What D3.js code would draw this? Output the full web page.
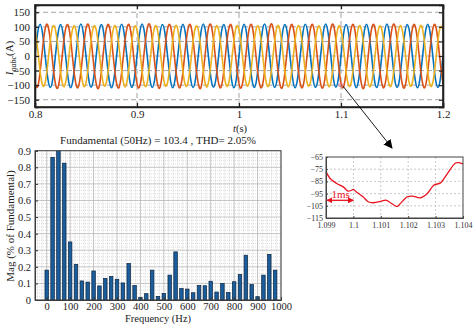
<!DOCTYPE html>
<html><head><meta charset="utf-8">
<script src="https://cdn.jsdelivr.net/npm/d3@7/dist/d3.min.js"></script>
<style>
body{margin:0;background:#fff;}
svg text{font-family:"Liberation Serif","Times New Roman",serif;}
</style></head>
<body><svg id="c" width="474" height="324"></svg>
<script>
// ---------- top: three-phase grid current samples (t0 = 0.8 s, dt = 2.5 ms) ----------
const waveT0 = 0.8, waveDt = 0.0025;
const phaseA = [
0,77,109,76,0,-76,-108,-77, 0,76,108,77,1,-77,-109,-76, 0,77,110,76,0,-76,-107,-76, 0,76,108,77,0,-77,-109,-77,
0,77,109,76,1,-76,-108,-76, 0,76,110,77,0,-77,-108,-77, 0,77,108,76,0,-76,-109,-76, 0,76,109,77,1,-77,-108,-77,
0,77,110,76,0,-76,-107,-76, 0,76,108,77,0,-77,-109,-77, 0,77,109,76,0,-76,-108,-76, 0,76,110,77,1,-77,-108,-77,
0,77,108,76,0,-76,-109,-76, 0,76,109,77,0,-77,-108,-77, 0,77,110,76,1,-76,-107,-76, 0,76,108,77,0,-77,-109,-77,
0,77,109,76,0,-76,-108,-76, 0,76,110,77,1,-77,-108,-77, 0,77,108,76,0,-76,-109,-76, 0,76,109,77,0,-77,-108,-77, 0];
const phaseB = [
-94,-106,-55,28,94,106,55,-28, -95,-108,-56,28,93,105,55,-29, -94,-106,-55,28,94,107,56,-28, -95,-109,-56,28,94,105,55,-28,
-94,-107,-55,29,93,106,55,-28, -95,-106,-56,28,94,108,56,-28, -94,-108,-55,28,94,105,55,-29, -95,-106,-56,28,93,106,55,-28,
-94,-110,-56,28,94,107,56,-28, -94,-106,-55,29,94,105,55,-28, -95,-107,-56,28,93,106,55,-28, -94,-106,-55,28,94,108,56,-29,
-95,-108,-56,28,94,105,55,-28, -94,-106,-55,28,93,106,55,-28, -95,-107,-56,29,94,107,56,-28, -94,-106,-55,28,94,105,55,-28,
-95,-109,-56,28,93,106,55,-29, -94,-106,-55,28,94,107,56,-28, -95,-107,-56,28,94,105,55,-28, -94,-106,-55,29,93,106,55,-28, -94];
const phaseC = [
91,27,-52,-101,-91,-27,53,101, 91,27,-53,-102,-91,-27,52,100, 91,28,-52,-101,-92,-27,53,101, 90,27,-53,-100,-91,-28,52,101,
91,27,-52,-102,-91,-27,53,100, 91,28,-53,-101,-92,-27,52,101, 90,27,-52,-100,-91,-27,53,102, 91,27,-53,-101,-91,-28,52,100,
91,28,-52,-102,-92,-27,53,101, 90,27,-53,-101,-91,-27,52,101, 91,27,-52,-100,-91,-28,53,100, 91,28,-53,-101,-92,-27,52,102,
90,27,-52,-102,-91,-27,53,101, 91,27,-53,-100,-91,-28,52,100, 91,28,-52,-101,-92,-27,53,101, 90,27,-53,-101,-91,-27,52,101,
91,27,-52,-102,-91,-28,53,100, 91,28,-53,-101,-92,-27,52,101, 90,27,-52,-100,-91,-27,53,102, 91,27,-53,-101,-91,-28,52,100, 91];
const phaseColors = ["#0072BD","#D95319","#EDB120"];
const topXTicks = [0.8,0.9,1.0,1.1,1.2];
const topYTicks = [-150,-100,-50,0,50,100,150];

// ---------- inset: zoomed phase current near 1.1 s ----------
const zoomT = [1.099,1.09915,1.09939,1.09963,1.09981,1.09994,1.1,1.1001,1.10035,1.10054,1.10072,1.101,1.10118,1.1013,1.1016,1.10172,1.10197,1.10215,1.10245,1.1027,1.10294,1.10318,1.10343,1.10373,1.10385,1.104];
const zoomI = [-77,-82.6,-86.7,-89.5,-93,-92.2,-91.6,-93.5,-97.6,-101.7,-102.5,-101.4,-100.3,-101.7,-105.5,-103,-97.6,-97,-98.4,-94.9,-88,-86.2,-78.6,-69.9,-69.6,-70.7];
const zoomXTicks = [1.099,1.1,1.101,1.102,1.103,1.104];
const zoomYTicks = [-115,-105,-95,-85,-75,-65];

// ---------- FFT spectrum ----------
const freqs = [0,25,50,75,100,125,150,175,200,225,250,275,300,325,350,375,400,425,450,475,500,525,550,575,600,625,650,675,700,725,750,775,800,825,850,875,900,925,950,975];
const mags = [0.18,0.86,1.0,0.825,0.35,0.215,0.115,0.108,0.175,0.085,0.13,0.142,0.125,0.103,0.22,0.087,0.015,0.038,0.18,0.022,0.04,0.15,0.29,0.07,0.066,0.044,0.088,0.086,0.113,0.048,0.1,0.046,0.11,0.153,0.27,0.093,0.02,0.15,0.275,0.18];
const barXTicks = [0,100,200,300,400,500,600,700,800,900,1000];
const barYTicks = [0,0.1,0.2,0.3,0.4,0.5,0.6,0.7,0.8,0.9];
const fftTitle = "Fundamental (50Hz) = 103.4 , THD= 2.05%";

const svg = d3.select("#c");
const defs = svg.append("defs");

// ================= TOP CHART =================
const tx = d3.scaleLinear().domain([0.8,1.2]).range([35,443]);
const ty = d3.scaleLinear().domain([-175,175]).range([107,5]);
defs.append("clipPath").attr("id","topclip").append("rect")
  .attr("x",35).attr("y",5).attr("width",408).attr("height",102);
const topG = svg.append("g");
topG.selectAll(".gy").data(topYTicks).join("line")
  .attr("x1",35).attr("x2",443).attr("y1",d=>ty(d)).attr("y2",d=>ty(d))
  .attr("stroke","#9a9a9a").attr("stroke-width",0.9).attr("stroke-dasharray","5,3");
topG.selectAll(".gx").data(topXTicks.slice(1,-1)).join("line")
  .attr("y1",5).attr("y2",107).attr("x1",d=>tx(d)).attr("x2",d=>tx(d))
  .attr("stroke","#9a9a9a").attr("stroke-width",0.9).attr("stroke-dasharray","5,3");
const lineGen = d3.line().x((d,i)=>tx(waveT0+i*waveDt)).y(d=>ty(d)).curve(d3.curveNatural);
const wg = topG.append("g").attr("clip-path","url(#topclip)");
[phaseA,phaseB,phaseC].forEach((arr,k)=>{
  wg.append("path").attr("d",lineGen(arr)).attr("fill","none")
    .attr("stroke",phaseColors[k]).attr("stroke-width",1.6);
});
const txAxis = d3.axisBottom(tx).tickValues(topXTicks).tickFormat(d3.format("")).tickSize(-4).tickPadding(3);
const tyAxis = d3.axisLeft(ty).tickValues(topYTicks).tickSize(-4).tickPadding(5);
topG.append("g").attr("transform","translate(0,107)").call(txAxis);
topG.append("g").attr("transform","translate(35,0)").call(tyAxis);
topG.append("g").attr("transform","translate(0,5)").call(d3.axisTop(tx).tickValues(topXTicks).tickFormat("").tickSize(-4));
topG.append("g").attr("transform","translate(443,0)").call(d3.axisRight(ty).tickValues(topYTicks).tickFormat("").tickSize(-4));
topG.selectAll(".domain").attr("stroke","#222").attr("stroke-width",1.6);
topG.selectAll(".tick line").attr("stroke","#222").attr("stroke-width",1.2);
topG.selectAll(".tick text").attr("font-size",11).attr("fill","#222")
  .attr("font-family","Liberation Serif, serif");
topG.append("rect").attr("x",35).attr("y",5).attr("width",408).attr("height",102)
  .attr("fill","none").attr("stroke","#222").attr("stroke-width",1.6);
const tl = topG.append("text").attr("x",240).attr("y",131.5).attr("text-anchor","middle")
  .attr("font-size",10.5).attr("fill","#222");
tl.append("tspan").attr("font-style","italic").text("t");
tl.append("tspan").text("(s)");
const yl = topG.append("text").attr("transform","translate(13,58) rotate(-90)")
  .attr("text-anchor","middle").attr("font-size",11).attr("fill","#222");
yl.append("tspan").attr("font-style","italic").text("I");
yl.append("tspan").attr("font-size",8).attr("dy",2.5).attr("font-style","italic").text("gabc");
yl.append("tspan").attr("dy",-2.5).text("(A)");

topG.append("ellipse").attr("cx",tx(1.1)).attr("cy",ty(-100)).attr("rx",2.6).attr("ry",1.6)
  .attr("fill","none").attr("stroke","#e07090").attr("stroke-width",0.9);
defs.append("marker").attr("id","ah").attr("viewBox","0 0 10 10").attr("refX",9).attr("refY",5)
  .attr("markerWidth",9).attr("markerHeight",9).attr("orient","auto").attr("markerUnits","userSpaceOnUse")
  .append("path").attr("d","M0,0 L10,5 L0,10 z").attr("fill","#000");
svg.append("line").attr("x1",tx(1.1)+2).attr("y1",ty(-100)+1).attr("x2",392).attr("y2",148)
  .attr("stroke","#000").attr("stroke-width",0.9).attr("marker-end","url(#ah)");

// ================= INSET =================
const zx = d3.scaleLinear().domain([1.099,1.104]).range([326,463]);
const zy = d3.scaleLinear().domain([-115,-65]).range([218,157]);
const ins = svg.append("g");
ins.selectAll(".gy").data(zoomYTicks.slice(1,-1)).join("line")
  .attr("x1",326).attr("x2",463).attr("y1",d=>zy(d)).attr("y2",d=>zy(d))
  .attr("stroke","#bbb").attr("stroke-width",0.8).attr("stroke-dasharray","2,2");
ins.selectAll(".gx").data(zoomXTicks.slice(1,-1)).join("line")
  .attr("y1",157).attr("y2",218).attr("x1",d=>zx(d)).attr("x2",d=>zx(d))
  .attr("stroke","#bbb").attr("stroke-width",0.8).attr("stroke-dasharray","2,2");
ins.append("path").attr("d",d3.line().x((d,i)=>zx(zoomT[i])).y(d=>zy(d)).curve(d3.curveCatmullRom)(zoomI))
  .attr("fill","none").attr("stroke","#e8131f").attr("stroke-width",1.3);
ins.append("g").attr("transform","translate(0,218)")
  .call(d3.axisBottom(zx).tickValues(zoomXTicks).tickFormat(d3.format("")).tickSize(-2).tickPadding(4));
ins.append("g").attr("transform","translate(326,0)")
  .call(d3.axisLeft(zy).tickValues(zoomYTicks).tickSize(-2).tickPadding(3));
ins.selectAll(".domain").attr("stroke","#444");
ins.selectAll(".tick line").attr("stroke","#444");
ins.selectAll(".tick text").attr("font-size",8).attr("fill","#333").attr("font-family","Liberation Serif, serif");
ins.append("rect").attr("x",326).attr("y",157).attr("width",137).attr("height",61)
  .attr("fill","none").attr("stroke","#444").attr("stroke-width",1);
defs.append("marker").attr("id","rh").attr("viewBox","0 0 10 10").attr("refX",9).attr("refY",5)
  .attr("markerWidth",6).attr("markerHeight",6).attr("orient","auto-start-reverse").attr("markerUnits","userSpaceOnUse")
  .append("path").attr("d","M0,0 L10,5 L0,10 z").attr("fill","#e8131f");
ins.append("line").attr("x1",zx(1.099)+1).attr("x2",zx(1.1)).attr("y1",zy(-100.5)).attr("y2",zy(-100.5))
  .attr("stroke","#e8131f").attr("stroke-width",1.3)
  .attr("marker-start","url(#rh)").attr("marker-end","url(#rh)");
ins.append("text").attr("x",(zx(1.099)+zx(1.1))/2+1).attr("y",zy(-98.5)).attr("text-anchor","middle")
  .attr("font-size",11).attr("fill","#e8131f").text("1ms");

// ================= FFT BAR CHART =================
const bx = d3.scaleLinear().domain([-50,1000]).range([35,281]);
const by = d3.scaleLinear().domain([0,0.9]).range([300,150.7]);
const bar = svg.append("g");
defs.append("clipPath").attr("id","barclip").append("rect")
  .attr("x",35).attr("y",150.7).attr("width",246).attr("height",149.3);
const minorX = d3.range(-40,1000,20).filter(v=>v%100!==0);
const minorY = d3.range(0.02,0.9,0.02).filter(v=>Math.abs(v*10-Math.round(v*10))>1e-6);
bar.selectAll(".mx").data(minorX).join("line")
  .attr("x1",d=>bx(d)).attr("x2",d=>bx(d)).attr("y1",150.7).attr("y2",300)
  .attr("stroke","#c4c4c4").attr("stroke-width",0.6).attr("stroke-dasharray","1,1");
bar.selectAll(".my").data(minorY).join("line")
  .attr("x1",35).attr("x2",281).attr("y1",d=>by(d)).attr("y2",d=>by(d))
  .attr("stroke","#c4c4c4").attr("stroke-width",0.6).attr("stroke-dasharray","1,1");
bar.selectAll(".Mx").data(barXTicks).join("line")
  .attr("x1",d=>bx(d)).attr("x2",d=>bx(d)).attr("y1",150.7).attr("y2",300)
  .attr("stroke","#b5b5b5").attr("stroke-width",0.8);
bar.selectAll(".My").data(barYTicks).join("line")
  .attr("x1",35).attr("x2",281).attr("y1",d=>by(d)).attr("y2",d=>by(d))
  .attr("stroke","#b5b5b5").attr("stroke-width",0.8);
const bw = bx(15)-bx(0);
bar.append("g").attr("clip-path","url(#barclip)").selectAll("rect").data(mags).join("rect")
  .attr("x",(d,i)=>bx(freqs[i])-bw/2).attr("width",bw)
  .attr("y",d=>by(d)).attr("height",d=>by(0)-by(d))
  .attr("fill","#1b5c9b").attr("stroke","#0b2440").attr("stroke-width",0.7);
bar.append("g").attr("transform","translate(0,300)")
  .call(d3.axisBottom(bx).tickValues(barXTicks).tickFormat(d3.format("d")).tickSize(-3).tickPadding(3));
bar.append("g").attr("transform","translate(35,0)")
  .call(d3.axisLeft(by).tickValues(barYTicks).tickFormat(d=>d===0?"0":d3.format(".1f")(d)).tickSize(-3).tickPadding(4));
bar.selectAll(".domain").attr("stroke","#333").attr("stroke-width",1);
bar.selectAll(".tick line").attr("stroke","#333");
bar.selectAll(".tick text").attr("font-size",10.5).attr("fill","#222").attr("font-family","Liberation Serif, serif");
bar.append("rect").attr("x",35).attr("y",150.7).attr("width",246).attr("height",149.3)
  .attr("fill","none").attr("stroke","#444").attr("stroke-width",1);
bar.append("text").attr("x",158).attr("y",144).attr("text-anchor","middle")
  .attr("font-size",11).attr("fill","#222").text(fftTitle);
bar.append("text").attr("x",158).attr("y",321.5).attr("text-anchor","middle")
  .attr("font-size",10.5).attr("fill","#222").text("Frequency (Hz)");
bar.append("text").attr("transform","translate(14,226) rotate(-90)").attr("text-anchor","middle")
  .attr("font-size",11).attr("fill","#222").text("Mag (% of Fundamental)");
</script></body></html>
